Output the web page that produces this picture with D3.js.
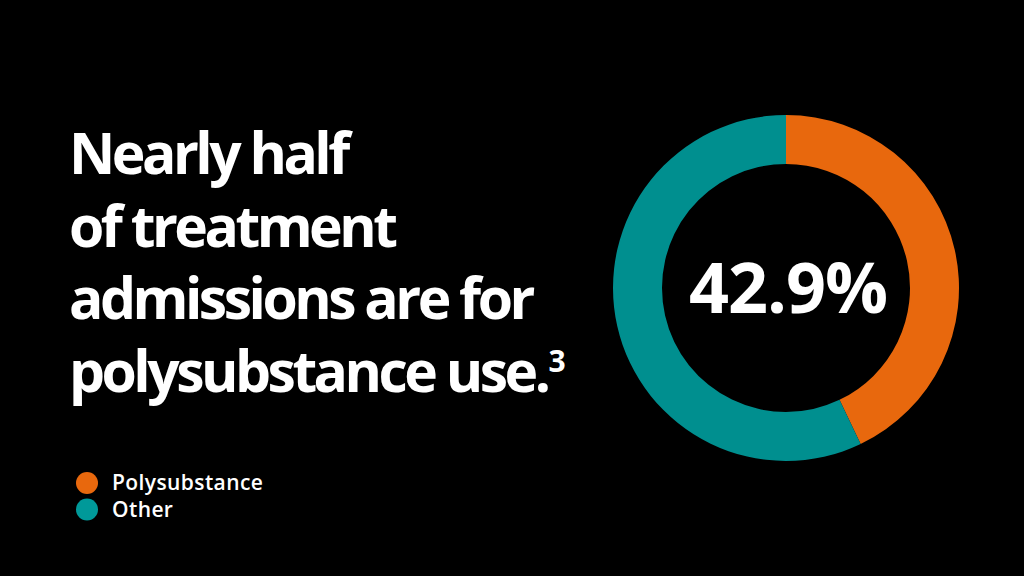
<!DOCTYPE html>
<html>
<head>
<meta charset="utf-8">
<script src="https://cdn.jsdelivr.net/npm/d3@7"></script>
<style>
  html, body { margin: 0; padding: 0; background: #000; }
  svg { display: block; }
</style>
</head>
<body>
<div id="viz"></div>
<script>
var categories = ['Polysubstance', 'Other'],
    shares = [42.9, 57.1],
    colours = ['#E8680D', '#008F8F'],
    titleLines = ['Nearly half', 'of treatment', 'admissions are for', 'polysubstance use.'],
    footnote = '3',
    centreLabel = '42.9%';

var width = 1024,
    height = 576,
    cx = 786,
    cy = 288,
    outerR = 173,
    innerR = 124;

var svg = d3.select('#viz').append('svg')
    .attr('width', width)
    .attr('height', height)
    .style('background', '#000');

var colour = d3.scaleOrdinal()
    .domain(categories)
    .range(colours);

var pie = d3.pie()
    .sort(null)
    .value(function(d) { return d.value; });

var arc = d3.arc()
    .innerRadius(innerR)
    .outerRadius(outerR);

var slices = categories.map(function(c, i) {
    return { name: c, value: shares[i] };
});

var donut = svg.append('g')
    .attr('transform', 'translate(' + cx + ',' + cy + ')');

donut.selectAll('path')
    .data(pie(slices))
    .enter().append('path')
    .attr('d', arc)
    .attr('fill', function(d) { return colour(d.data.name); });

donut.append('text')
    .attr('x', 2)
    .attr('y', 25)
    .attr('text-anchor', 'middle')
    .attr('fill', '#fff')
    .style('font-family', '"Open Sans", sans-serif')
    .style('font-weight', 700)
    .style('font-size', '70px')
    .style('letter-spacing', '-1px')
    .text(centreLabel);

// headline
var title = svg.append('text')
    .attr('fill', '#fff')
    .style('font-family', '"Open Sans", sans-serif')
    .style('font-weight', 700)
    .style('font-size', '57px')
    .style('letter-spacing', '-3.5px');

title.selectAll('tspan')
    .data(titleLines)
    .enter().append('tspan')
    .attr('x', 69)
    .attr('y', function(d, i) { return 174 + i * 72.5; })
    .text(function(d) { return d; });

title.select('tspan:last-child')
    .append('tspan')
    .attr('dx', 1)
    .attr('dy', -20)
    .style('font-size', '30px')
    .style('letter-spacing', '0px')
    .text(footnote);

// legend
var legend = svg.append('g')
    .selectAll('g')
    .data(categories)
    .enter().append('g')
    .attr('transform', function(d, i) {
        return 'translate(87,' + (483 + i * 26.5) + ')';
    });

legend.append('circle')
    .attr('r', 11)
    .attr('fill', function(d) { return d === 'Other' ? '#009999' : colour(d); });

legend.append('text')
    .attr('x', 25)
    .attr('y', 7)
    .attr('fill', '#fff')
    .style('font-family', '"Open Sans", sans-serif')
    .style('font-weight', 600)
    .style('font-size', '21px')
    .style('letter-spacing', '0.4px')
    .text(function(d) { return d; });
</script>
</body>
</html>
